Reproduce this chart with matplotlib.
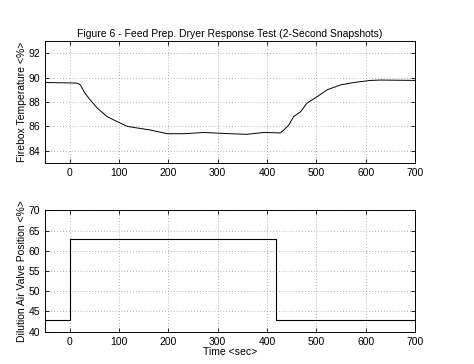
import matplotlib
matplotlib.use("Agg")
import matplotlib.pyplot as plt

plt.rcParams['font.family'] = ['Liberation Sans', 'DejaVu Sans']

# firebox temperature
temp_t = [-50, 15, 22, 29, 39, 56, 76, 96, 117, 164, 198, 231, 272, 326, 359,
          393, 427, 434, 444, 454, 468, 481, 502, 522, 549, 576, 610, 630, 700]
temp_v = [89.6, 89.55, 89.4, 88.85, 88.3, 87.5, 86.8, 86.4, 86.0, 85.7, 85.4,
          85.4, 85.5, 85.4, 85.35, 85.5, 85.47, 85.7, 86.1, 86.8, 87.2, 87.9,
          88.45, 89.0, 89.4, 89.6, 89.77, 89.8, 89.77]

# dilution air valve position (step changes)
valve_t = [-50, 0, 418, 700]
valve_v = [43, 63, 42.8, 42.8]

fig = plt.figure(figsize=(4.74, 3.64), dpi=100)
ax1 = fig.add_axes([45/474, 1-163/364, 370/474, 122/364])
ax2 = fig.add_axes([45/474, 1-331.7/364, 370/474, 121.4/364])

ax1.plot(temp_t, temp_v, color='k', linewidth=0.7)
ax2.plot(valve_t, valve_v, color='k', linewidth=0.8, drawstyle='steps-post')

ax1.set_xlim(-50, 700)
ax1.set_ylim(83, 93)
ax1.set_yticks([84, 86, 88, 90, 92])
ax2.set_xlim(-50, 700)
ax2.set_ylim(40, 70)
ax2.set_yticks([40, 45, 50, 55, 60, 65, 70])

for ax in (ax1, ax2):
    ax.set_xticks([0, 100, 200, 300, 400, 500, 600, 700])
    ax.grid(True, linestyle=(0, (1, 2.5)), color='#999999', linewidth=0.6)
    ax.tick_params(direction='in', top=True, right=True, labelsize=7.5, length=3, width=0.6)
    for s in ax.spines.values():
        s.set_linewidth(0.7)

ax1.set_title('Figure 6 - Feed Prep. Dryer Response Test (2-Second Snapshots)', fontsize=7.5, pad=3)
ax1.set_ylabel('Firebox Temperature <%>', fontsize=7.5, labelpad=1)
ax2.set_ylabel('Dilution Air Valve Position <%>', fontsize=7.5, labelpad=1)
ax2.set_xlabel('Time <sec>', fontsize=7.5, labelpad=0)

fig.savefig('out.png', dpi=100)
